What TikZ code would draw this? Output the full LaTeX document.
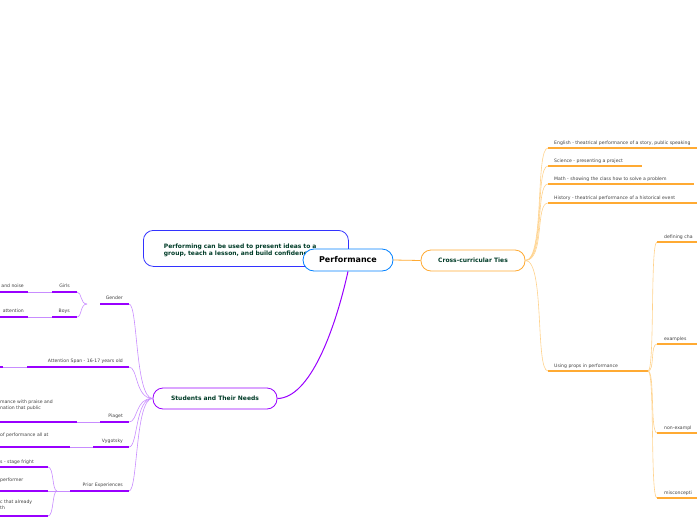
\documentclass[tikz,border=0pt]{standalone}
\usepackage{fontspec}
\setmainfont{DejaVu Sans}
\definecolor{pur}{RGB}{153,0,255}
\definecolor{purl}{RGB}{200,140,255}
\definecolor{org}{RGB}{255,170,51}
\definecolor{orgl}{RGB}{255,210,140}
\definecolor{tgreen}{RGB}{0,60,40}
\begin{document}
\begin{tikzpicture}[x=1pt,y=-1pt,
  lbl/.style={font=\fontsize{4.6}{5.6}\selectfont,text=black!75,inner sep=0pt},
  pl/.style={draw=pur,line width=1.1pt},
  plt/.style={draw=purl,line width=0.6pt},
  ol/.style={draw=org,line width=1.1pt},
  olt/.style={draw=orgl,line width=0.6pt},
  main/.style={rounded corners=10pt,draw,line width=0.8pt,fill=white,font=\bfseries\fontsize{6}{7}\selectfont,text=tgreen}]
\useasboundingbox (0,0) rectangle (697,520);
% note
\node[main,draw=blue!80,minimum width=205pt,minimum height=36pt,align=left,text width=160pt,anchor=north west,text depth=0pt] (note) at (143,230) {\hspace*{-2pt}\parbox{160pt}{\raggedright Performing can be used to present ideas to a group, teach a lesson, and build confidence.}};
% center
\node[main,draw=blue!50!cyan,minimum width=90pt,minimum height=22pt,font=\bfseries\fontsize{8}{9}\selectfont,text=black,rounded corners=11pt] (perf) at (348,260) {Performance};
\node[main,draw=org,minimum width=104pt,minimum height=21pt] (cross) at (473,260.5) {Cross-curricular Ties};
\node[main,draw=pur,minimum width=124pt,minimum height=21pt] (stud) at (215,398.5) {Students and Their Needs};
\draw[draw=org,line width=0.8pt] (perf.east) -- (cross.west);
\draw[pur,line width=1pt] (perf.south) .. controls (335,330) and (310,398) .. (stud.east);
% right branches
\coordinate (cr) at (cross.east);
\foreach \y/\xe/\t in {148/697/{English - theatrical performance of a story, public speaking},166/642/{Science - presenting a project},184/694/{Math - showing the class how to solve a problem},203/697/{History - theatrical performance of a historical event},371/648/{Using props in performance}}{
  \draw[olt] (cr) .. controls (545,260) and (535,\y) .. (548,\y);
  \draw[ol] (548,\y) -- (\xe,\y);
  \node[lbl,anchor=base west] at (554,\y-4) {\t};
}
\coordinate (pr) at (648,371);
\foreach \y/\t in {242/defining cha,344/examples,433/non-exampl,498/misconcepti}{
  \draw[olt] (pr) .. controls (655,371) and (650,\y) .. (657,\y);
  \draw[ol] (657,\y) -- (697,\y);
  \node[lbl,anchor=base west] at (664,\y-4) {\t};
}
% left branches
\coordinate (sl) at (stud.west);
\foreach \y/\xs/\t in {304/100/Gender,367/27/{Attention Span - 16-17 years old},422/100/Piaget,447/93/Vygotsky,491/70/Prior Experiences}{
  \draw[plt] (sl) .. controls (135,398) and (138,\y) .. (129,\y);
  \draw[pl] (\xs,\y) -- (129,\y);
  \node[lbl,anchor=base east] at (123,\y-5) {\t};
}
\draw[plt] (0,367) -- (27,367); \draw[pl] (0,367) -- (3,367);
% gender
\coordinate (gd) at (87,304);
\foreach \y/\t/\u in {292/Girls/{and noise},317/Boys/{attention}}{
  \draw[plt] (gd) .. controls (80,304) and (82,\y) .. (77,\y);
  \draw[pl] (52,\y) -- (77,\y);
  \draw[plt] (28,\y) -- (52,\y);
  \draw[pl] (0,\y) -- (28,\y);
  \node[lbl,anchor=base east] at (70,\y-5) {\t};
  \node[lbl,anchor=base east] at (24,\y-5) {\u};
}
% piaget, vygotsky
\draw[plt] (77,422) -- (100,422); \draw[pl] (0,422) -- (77,422);
\node[lbl,anchor=north west,align=left] at (0,400) {mance with praise and\\nation that public};
\draw[plt] (70,447) -- (93,447); \draw[pl] (0,447) -- (70,447);
\node[lbl,anchor=base west] at (0,436) {of performance all at};
% prior
\coordinate (pe) at (57,491);
\foreach \y in {467,491,516}{
  \draw[plt] (pe) .. controls (52,491) and (54,\y) .. (48,\y);
  \draw[pl] (0,\y) -- (48,\y);
}
\draw[plt] (48,491) -- (70,491);
\node[lbl,anchor=base west] at (0,463) {s - stage fright};
\node[lbl,anchor=base west] at (0,481) {performer};
\node[lbl,anchor=north west,align=left] at (0,500) {c that already\\th};
\end{tikzpicture}
\end{document}
